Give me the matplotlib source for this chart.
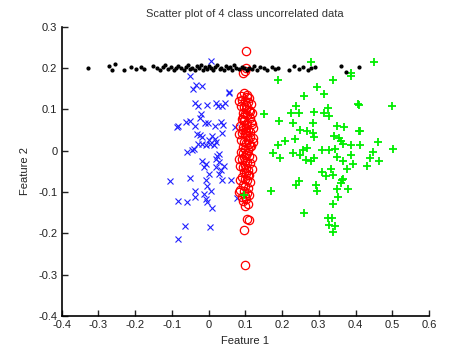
import matplotlib
matplotlib.use('Agg')
from matplotlib import pyplot as plt
from matplotlib.ticker import FuncFormatter

plt.rcParams['font.family'] = ['Liberation Sans', 'DejaVu Sans']
plt.rcParams['axes.unicode_minus'] = False

# class 1 (blue x)
blue_x = [-0.051, -0.035, -0.042, -0.019, -0.037, -0.028, -0.004, 0.019, 0.026, 0.037, 0.046, 0.055,
          -0.082, -0.062, -0.051, -0.037, -0.024, -0.010, -0.001, 0.017, 0.033, 0.039, 0.037,
          -0.031, -0.022, -0.017, 0.010, 0.017, -0.028, -0.017, -0.008, 0.005, 0.014, 0.019, 0.028,
          -0.040, -0.058, -0.044, -0.017, -0.008, -0.012, 0.019, 0.028, 0.019, 0.033, 0.041, 0.001,
          -0.008, 0.028, 0.037, 0.060, -0.104, -0.051, -0.082, -0.060, -0.037, -0.037, -0.012, -0.008,
          -0.003, 0.006, 0.010, 0.078, -0.064, 0.003, -0.082, 0.006, -0.085, 0.072, 0.055, -0.020,
          0.000, 0.024, -0.005]
blue_y = [0.181, 0.159, 0.149, 0.157, 0.116, 0.108, 0.110, 0.116, 0.107, 0.108, 0.115, 0.139,
          0.059, 0.070, 0.072, 0.059, 0.078, 0.068, 0.066, 0.059, 0.070, 0.062, 0.043,
          0.041, 0.037, 0.033, 0.035, 0.029, 0.015, 0.017, 0.013, 0.017, 0.013, 0.021, -0.007,
          0.005, -0.003, 0.001, -0.024, -0.032, -0.040, -0.020, -0.028, -0.040, -0.048, -0.036, -0.056,
          -0.072, -0.056, -0.072, -0.072, -0.074, -0.066, -0.121, -0.125, -0.097, -0.111, -0.105, -0.117,
          -0.125, -0.097, -0.139, -0.115, -0.182, -0.185, -0.215, 0.216, 0.058, 0.056, 0.141, 0.088,
          0.025, -0.012, -0.085]

# class 2 (red o)
red_x = [0.103, 0.098, 0.093, 0.101, 0.097, 0.104, 0.110, 0.092, 0.100, 0.107, 0.115, 0.088,
         0.096, 0.102, 0.111, 0.094, 0.099, 0.106, 0.113, 0.090, 0.097, 0.104, 0.118, 0.086,
         0.095, 0.101, 0.108, 0.114, 0.092, 0.099, 0.105, 0.112, 0.120, 0.089, 0.096, 0.103,
         0.110, 0.116, 0.093, 0.100, 0.107, 0.087, 0.095, 0.102, 0.109, 0.117, 0.091, 0.098,
         0.105, 0.112, 0.085, 0.094, 0.101, 0.108, 0.096, 0.103, 0.110, 0.090, 0.099, 0.106,
         0.113, 0.093, 0.100, 0.108, 0.086, 0.097, 0.104, 0.111, 0.092, 0.101, 0.095, 0.107,
         0.099, 0.088, 0.105, 0.113, 0.096, 0.102, 0.094, 0.108, 0.100, 0.098, 0.107, 0.103,
         0.105, 0.110, 0.097, 0.112, 0.097, 0.094, 0.102, 0.106, 0.098,
         0.083, 0.119, 0.084, 0.121, 0.082, 0.117, 0.086, 0.122, 0.084, 0.115]
red_y = [0.242, 0.192, 0.188, 0.200, 0.140, 0.135, 0.128, 0.122, 0.120, 0.118, 0.112, 0.108,
         0.105, 0.100, 0.098, 0.092, 0.088, 0.085, 0.080, 0.076, 0.072, 0.068, 0.065, 0.060,
         0.058, 0.055, 0.050, 0.046, 0.043, 0.040, 0.036, 0.032, 0.030, 0.026, 0.022, 0.019,
         0.015, 0.012, 0.008, 0.004, 0.001, -0.003, -0.006, -0.010, -0.013, -0.017, -0.021, -0.024,
         -0.028, -0.031, -0.036, -0.040, -0.043, -0.047, -0.052, -0.055, -0.060, -0.064, -0.068, -0.072,
         -0.077, -0.082, -0.086, -0.090, -0.095, -0.098, -0.103, -0.108, -0.112, -0.118, -0.123, -0.128,
         -0.133, 0.132, 0.130, 0.095, 0.075, 0.110, 0.050, 0.025, -0.035, -0.110, -0.060, 0.063,
         -0.166, -0.168, -0.192, 0.010, -0.015, 0.082, 0.045, -0.005, -0.276,
         0.120, 0.090, 0.040, 0.020, -0.020, -0.045, -0.070, 0.055, -0.100, 0.070]

# class 3 (green +)
green_x = [0.278, 0.387, 0.188, 0.340, 0.296, 0.315, 0.260, 0.410, 0.239, 0.224, 0.245, 0.288,
           0.150, 0.313, 0.329, 0.324, 0.191, 0.230, 0.284, 0.349, 0.369, 0.410, 0.249, 0.269,
           0.284, 0.288, 0.342, 0.360, 0.209, 0.236, 0.188, 0.175, 0.195, 0.257, 0.269, 0.308,
           0.329, 0.344, 0.367, 0.389, 0.412, 0.266, 0.278, 0.288, 0.231, 0.248, 0.349, 0.365,
           0.389, 0.332, 0.308, 0.340, 0.376, 0.245, 0.365, 0.360, 0.293, 0.296, 0.349, 0.170,
           0.239, 0.380, 0.353, 0.340, 0.260, 0.335, 0.329, 0.340, 0.451, 0.389, 0.498, 0.412,
           0.462, 0.502, 0.448, 0.439, 0.464, 0.430, 0.394, 0.362, 0.096, 0.326, 0.344, 0.408,
           0.355, 0.320]
green_y = [0.214, 0.189, 0.171, 0.171, 0.155, 0.137, 0.131, 0.111, 0.107, 0.092, 0.090, 0.094,
           0.089, 0.090, 0.084, 0.102, 0.072, 0.068, 0.066, 0.059, 0.058, 0.048, 0.051, 0.048,
           0.043, 0.032, 0.035, 0.024, 0.024, 0.027, 0.013, -0.006, -0.017, 0.001, 0.007, 0.001,
           0.002, 0.005, 0.017, 0.013, 0.013, -0.022, -0.025, -0.017, -0.006, -0.011, -0.015, -0.025,
           -0.011, -0.044, -0.052, -0.058, -0.044, -0.074, -0.068, -0.079, -0.082, -0.097, -0.093, -0.098,
           -0.082, -0.093, -0.111, -0.128, -0.152, -0.163, -0.180, -0.198, 0.214, 0.181, 0.108, 0.048,
           0.021, 0.005, -0.003, -0.017, -0.024, -0.038, -0.032, -0.071, -0.107, -0.162, -0.182, 0.112,
           0.030, -0.062]

# class 4 (black .)
black_x = [-0.327, -0.270, -0.262, -0.256, -0.230, -0.210, -0.197, -0.183, -0.175, -0.150, -0.140,
           -0.132, -0.125, -0.118, -0.110, -0.102, -0.095, -0.088, -0.082, -0.075, -0.068, -0.062,
           -0.055, -0.050, -0.044, -0.038, -0.032, -0.027, -0.021, -0.015, -0.010, -0.004, 0.002,
           0.008, 0.013, 0.018, 0.024, 0.030, 0.035, 0.041, 0.047, 0.052, 0.058, 0.064, 0.070,
           0.076, 0.082, 0.090, 0.097, 0.104, 0.110, 0.118, 0.125, 0.132, 0.140, 0.150, 0.160,
           0.172, 0.182, 0.190, 0.220, 0.232, 0.245, 0.258, 0.270, 0.280, 0.290, 0.360, 0.375, 0.410]
black_y = [0.201, 0.205, 0.195, 0.210, 0.196, 0.203, 0.198, 0.202, 0.197, 0.204, 0.199,
           0.195, 0.202, 0.207, 0.198, 0.203, 0.196, 0.201, 0.205, 0.199, 0.194, 0.202,
           0.206, 0.197, 0.201, 0.195, 0.204, 0.199, 0.208, 0.196, 0.202, 0.198, 0.205,
           0.200, 0.195, 0.203, 0.207, 0.198, 0.201, 0.196, 0.204, 0.199, 0.202, 0.195, 0.206,
           0.200, 0.197, 0.203, 0.199, 0.196, 0.201, 0.198, 0.204, 0.195, 0.202, 0.199, 0.196,
           0.203, 0.198, 0.201, 0.196, 0.205, 0.198, 0.202, 0.194, 0.199, 0.203, 0.205, 0.191, 0.203]

fig = plt.figure(figsize=(4.74, 3.55), dpi=100)
ax = fig.add_axes([0.13, 0.11, 0.775, 0.815])

ax.plot(blue_x, blue_y, 'x', color='#2020ff', markersize=3.8, markeredgewidth=0.8, linestyle='none')
ax.plot(red_x, red_y, 'o', markerfacecolor='none', markeredgecolor='#ff0000', markersize=6,
        markeredgewidth=0.9, linestyle='none')
ax.plot(green_x, green_y, '+', color='#00ee00', markersize=6, markeredgewidth=1.3, linestyle='none')
ax.plot(black_x, black_y, '.', color='black', markersize=4, linestyle='none')

ax.set_xlim(-0.4, 0.6)
ax.set_ylim(-0.4, 0.3)
ax.set_xticks([-0.4, -0.3, -0.2, -0.1, 0, 0.1, 0.2, 0.3, 0.4, 0.5, 0.6])
ax.set_yticks([-0.4, -0.3, -0.2, -0.1, 0, 0.1, 0.2, 0.3])
fmt = FuncFormatter(lambda v, p: '%g' % round(v, 2))
ax.xaxis.set_major_formatter(fmt)
ax.yaxis.set_major_formatter(fmt)

for side in ['top', 'right']:
    ax.spines[side].set_visible(False)
ax.spines['left'].set_linewidth(1.2)
ax.spines['bottom'].set_linewidth(1.2)
ax.tick_params(direction='in', length=4, width=1, labelsize=8, colors='#222222', pad=3)

ax.set_title('Scatter plot of 4 class uncorrelated data', fontsize=8, color='#333333', pad=7)
ax.set_xlabel('Feature 1', fontsize=8, color='#222222', labelpad=4)
ax.set_ylabel('Feature 2', fontsize=8, color='#222222', labelpad=6)

plt.savefig('out.png', dpi=100)
